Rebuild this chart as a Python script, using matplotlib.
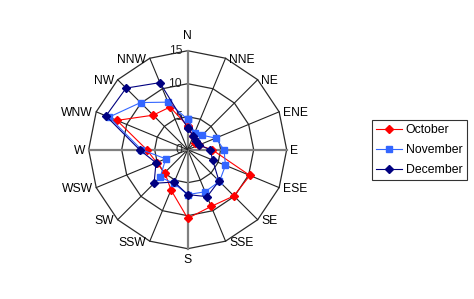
import numpy as np
import matplotlib
matplotlib.use("Agg")
import matplotlib.pyplot as plt

plt.rcParams['font.family'] = ['Liberation Sans', 'DejaVu Sans']

directions = ['N', 'NNE', 'NE', 'ENE', 'E', 'ESE', 'SE', 'SSE',
              'S', 'SSW', 'SW', 'WSW', 'W', 'WNW', 'NW', 'NNW']
october = [3.6, 2.2, 1.5, 1.8, 3.7, 10.2, 9.9, 9.3, 10.4, 6.6, 4.9, 5.1, 6.2, 11.6, 7.4, 7.0]
november = [4.6, 2.8, 3.1, 4.6, 5.5, 6.2, 6.8, 6.9, 6.8, 5.5, 5.9, 3.6, 7.0, 12.9, 10.1, 7.8]
december = [3.3, 2.2, 1.8, 1.9, 3.4, 4.1, 6.7, 7.7, 6.8, 5.3, 7.2, 5.2, 7.3, 13.4, 13.2, 11.0]
rings = [5, 10, 15]
ring_labels = ['0', '5', '10', '15']

n = len(directions)
angles = np.linspace(0, 2 * np.pi, n, endpoint=False)
closed = np.append(angles, angles[0])

fig = plt.figure(figsize=(4.74, 2.99), dpi=100)
ax = fig.add_axes([0.1871, 0.1682, 0.4177, 0.6622], projection='polar')
ax.set_theta_zero_location('N')
ax.set_theta_direction(-1)
ax.set_ylim(0, 15)
ax.grid(False)
ax.set_xticks([])
ax.set_yticks([])
ax.spines['polar'].set_visible(False)
ax.patch.set_alpha(0)

# polygon rings and spokes
for r in rings:
    ax.plot(closed, [r] * (n + 1), color='#2a2a2a', lw=0.9, zorder=1, clip_on=False)
for i, a in enumerate(angles):
    if i % 4 == 0:
        ax.plot([a, a], [0, 15], color='#808080', lw=1.6, zorder=1, clip_on=False)
    else:
        ax.plot([a, a], [0, 15], color='#222222', lw=0.8, zorder=1, clip_on=False)

# value labels next to the N axis
for i, lab in enumerate(ring_labels):
    ax.annotate(lab, xy=(0, i * 5), xytext=(-4, 0), textcoords='offset points',
                ha='right', va='center', fontsize=8.7, color='#222222', zorder=2)

# direction labels
for a, lab in zip(angles, directions):
    s = np.sin(a)
    if abs(s) < 1e-6:
        if np.cos(a) > 0:
            ax.annotate(lab, xy=(a, 15), xytext=(0, 6), textcoords='offset points',
                        ha='center', va='bottom', fontsize=8.7)
        else:
            ax.annotate(lab, xy=(a, 15), xytext=(0, -4), textcoords='offset points',
                        ha='center', va='top', fontsize=8.7)
    elif s > 0:
        ax.annotate(lab, xy=(a, 15), xytext=(2.5, -1), textcoords='offset points',
                    ha='left', va='center', fontsize=8.7)
    else:
        ax.annotate(lab, xy=(a, 15), xytext=(-2.5, -1), textcoords='offset points',
                    ha='right', va='center', fontsize=8.7)

ax.plot(closed, october + october[:1], color='#FF0000', lw=0.8, marker='D', ms=3.6,
        label='October', zorder=3, clip_on=False)
ax.plot(closed, november + november[:1], color='#3366FF', lw=0.8, marker='s', ms=4.0,
        label='November', zorder=3, clip_on=False)
ax.plot(closed, december + december[:1], color='#000080', lw=0.8, marker='D', ms=3.6,
        label='December', zorder=3, clip_on=False)

leg = fig.legend(loc='center left', bbox_to_anchor=(0.785, 0.498), fontsize=8.8,
                 frameon=True, fancybox=False, edgecolor='black', handlelength=2.1,
                 handletextpad=0.3, labelspacing=0.65, borderpad=0.35, borderaxespad=0)
leg.get_frame().set_linewidth(0.8)

fig.savefig('out.png', dpi=100)
